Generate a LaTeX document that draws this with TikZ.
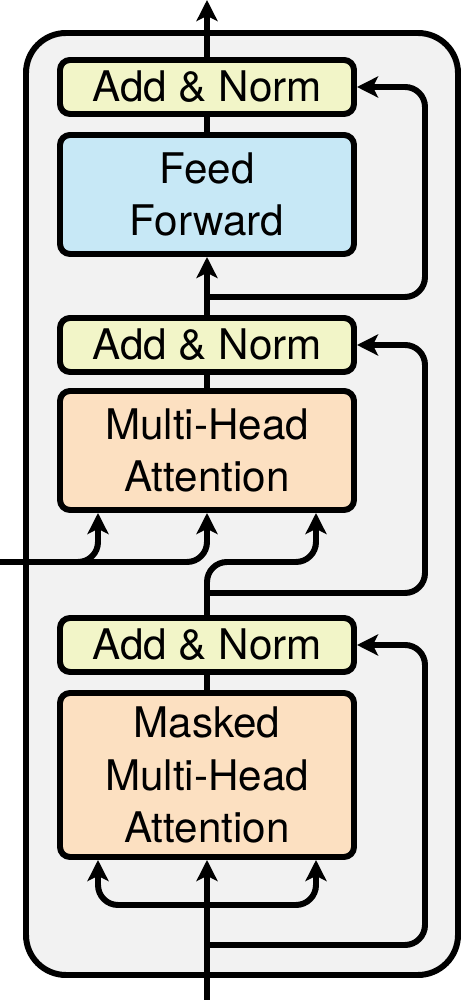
\documentclass[tikz,border=0pt]{standalone}
\usepackage{fontspec}
\setmainfont{TeX Gyre Heros}
\usepackage{tikz}
\usetikzlibrary{positioning,arrows.meta,calc}
\definecolor{normfill}{RGB}{242,245,200}
\definecolor{fffill}{RGB}{199,232,246}
\definecolor{attfill}{RGB}{252,224,193}
\definecolor{blockfill}{RGB}{242,242,242}

\begin{document}
\begin{tikzpicture}[
    line width=3.4pt,
    >={Stealth[length=12pt,width=12pt,inset=3pt]},
    every node/.style={font=\fontsize{24}{30}\selectfont, align=center},
    sublayer/.style={draw, rounded corners=0.2cm, minimum width=5.88cm, inner sep=0pt},
    addnorm/.style={sublayer, fill=normfill, minimum height=1.08cm},
    ffbox/.style={sublayer, fill=fffill, minimum height=2.38cm},
    attbox/.style={sublayer, fill=attfill}
]
    \useasboundingbox (0,0) rectangle (9.44,20);
    % Decoder block
    \draw[fill=blockfill, rounded corners=0.8cm] (0.52,0.5) rectangle (9.16,19.34);

    \node[addnorm] (norm3) at (4.14,18.26) {Add \& Norm};
    \node[ffbox] (ff) at (4.14,16.11) {Feed\\Forward};
    \node[addnorm] (norm2) at (4.14,13.1) {Add \& Norm};
    \node[attbox, minimum height=2.38cm] (mha) at (4.14,10.99) {Multi-Head\\Attention};
    \node[addnorm] (norm1) at (4.14,7.1) {Add \& Norm};
    \node[attbox, minimum height=3.28cm] (mmha) at (4.14,4.5) {Masked\\Multi-Head\\Attention};

    \coordinate (in) at (4.14,0);
    \coordinate (out) at (4.14,20);
    \coordinate (enc) at (0,8.76);
    \coordinate (rail) at (8.5,0);
    \coordinate (split1) at (4.14,1.9);
    \coordinate (res1) at (4.14,1.1);
    \coordinate (res2) at (4.14,8.14);
    \coordinate (res3) at (4.14,14.06);
    \coordinate (mmhaL) at ($(mmha.south)+(-2.18,0)$);
    \coordinate (mmhaR) at ($(mmha.south)+(2.18,0)$);
    \coordinate (mhaL) at ($(mha.south)+(-2.18,0)$);
    \coordinate (mhaR) at ($(mha.south)+(2.18,0)$);

    % Main path
    \draw[->] (in) -- (mmha);
    \draw (mmha) -- (norm1);
    \draw (mha) -- (norm2);
    \draw[->] (norm2) -- (ff);
    \draw (ff) -- (norm3);
    \draw[->] (norm3) -- (out);

    % Attention inputs
    \draw[->, rounded corners=0.4cm] (split1) -| (mmhaL);
    \draw[->, rounded corners=0.4cm] (split1) -| (mmhaR);
    \draw[->, rounded corners=0.4cm] (enc) -| (mhaL);
    \draw[->, rounded corners=0.4cm] (enc) -| (mha.south);
    \draw[->, rounded corners=0.4cm] (norm1) -- (norm1.north |- enc) -- (enc -| mhaR) -- (mhaR);

    % Residuals
    \draw[->, rounded corners=0.4cm] (res1) -- (res1 -| rail) -- (rail |- norm1.east) -- (norm1.east);
    \draw[->, rounded corners=0.4cm] (res2) -- (res2 -| rail) -- (rail |- norm2.east) -- (norm2.east);
    \draw[->, rounded corners=0.4cm] (res3) -- (res3 -| rail) -- (rail |- norm3.east) -- (norm3.east);
\end{tikzpicture}
\end{document}
